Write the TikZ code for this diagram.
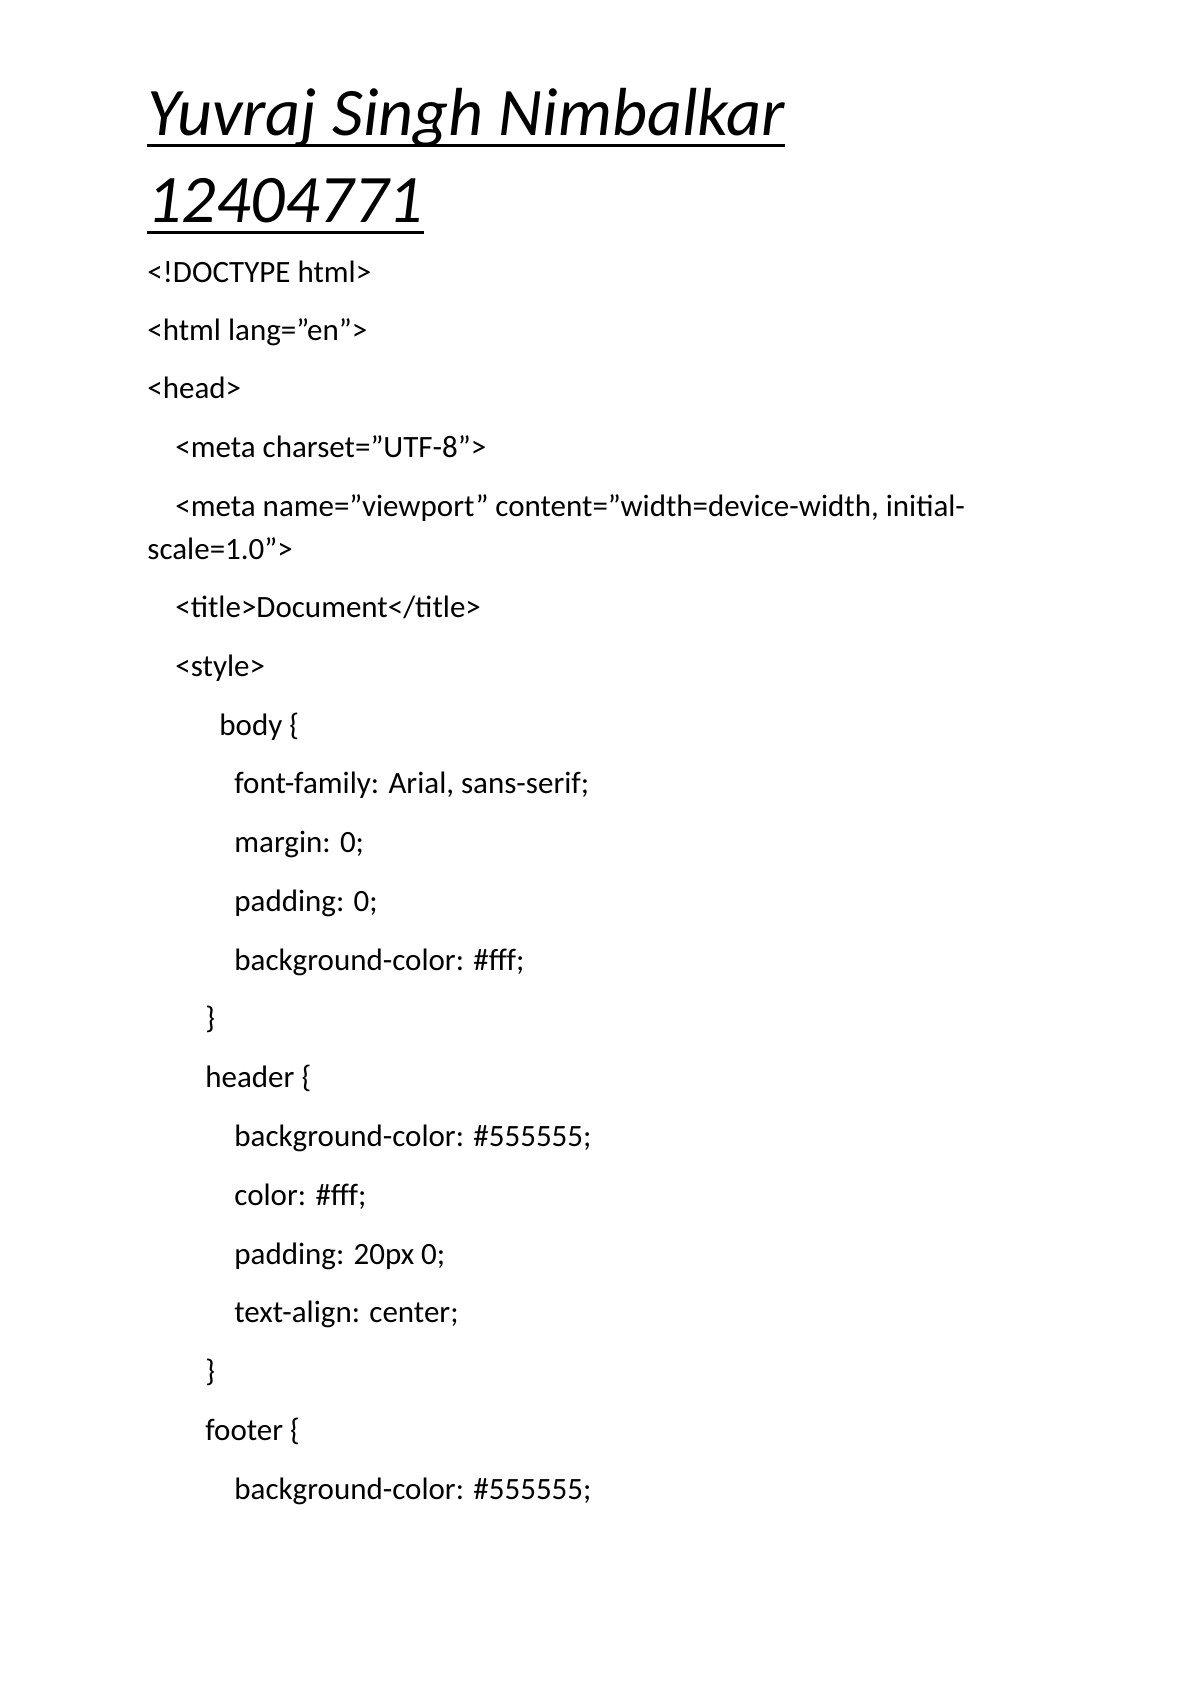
\documentclass[tikz,border=0pt]{standalone}
\usepackage{fontspec}
\setmainfont{Carlito}
\begin{document}
\begin{tikzpicture}[x=0.5pt,y=-0.5pt,
  code/.style={anchor=base west,inner sep=0pt,font=\fontsize{15.5}{18}\selectfont},
  ttl/.style={anchor=base west,inner sep=0pt,font=\fontsize{34}{40}\selectfont\itshape}]
\useasboundingbox (0,0) rectangle (1200,1696);
\node[ttl] (t1) at (147,136) {Yuvraj Singh Nimbalkar};
\node[ttl] (t2) at (147,223) {12404771};
\draw[line width=1.5pt] ([yshift=-5pt]t1.base west) -- ([yshift=-5pt]t1.base east);
\draw[line width=1.5pt] ([yshift=-5pt]t2.base west) -- ([yshift=-5pt]t2.base east);
\node[code] (l1) at (147,282) {<!DOCTYPE html>};
\node[code] (l2) at (147,340) {<html lang="en">};
\node[code] (l3) at (147,398) {<head>};
\node[code] (l4) at (175,457) {<meta charset="UTF-8">};
\node[code] (l5) at (175,516) {<meta name="viewport" content="width=device-width, initial-};
\node[code] (l6) at (147,559) {scale=1.0">};
\node[code] (l7) at (175,617) {<title>Document</title>};
\node[code] (l8) at (175,676) {<style>};
\node[code] (l9) at (219,735) {body \{};
\node[code] (l10) at (234,793) {font-family: Arial, sans-serif;};
\node[code] (l11) at (234,852) {margin: 0;};
\node[code] (l12) at (234,911) {padding: 0;};
\node[code] (l13) at (234,970) {background-color: \#fff;};
\node[code] (l14) at (205,1028) {\}};
\node[code] (l15) at (205,1087) {header \{};
\node[code] (l16) at (234,1146) {background-color: \#555555;};
\node[code] (l17) at (234,1205) {color: \#fff;};
\node[code] (l18) at (234,1264) {padding: 20px 0;};
\node[code] (l19) at (234,1322) {text-align: center;};
\node[code] (l20) at (205,1381) {\}};
\node[code] (l21) at (205,1440) {footer \{};
\node[code] (l22) at (234,1499) {background-color: \#555555;};
\end{tikzpicture}
\end{document}
